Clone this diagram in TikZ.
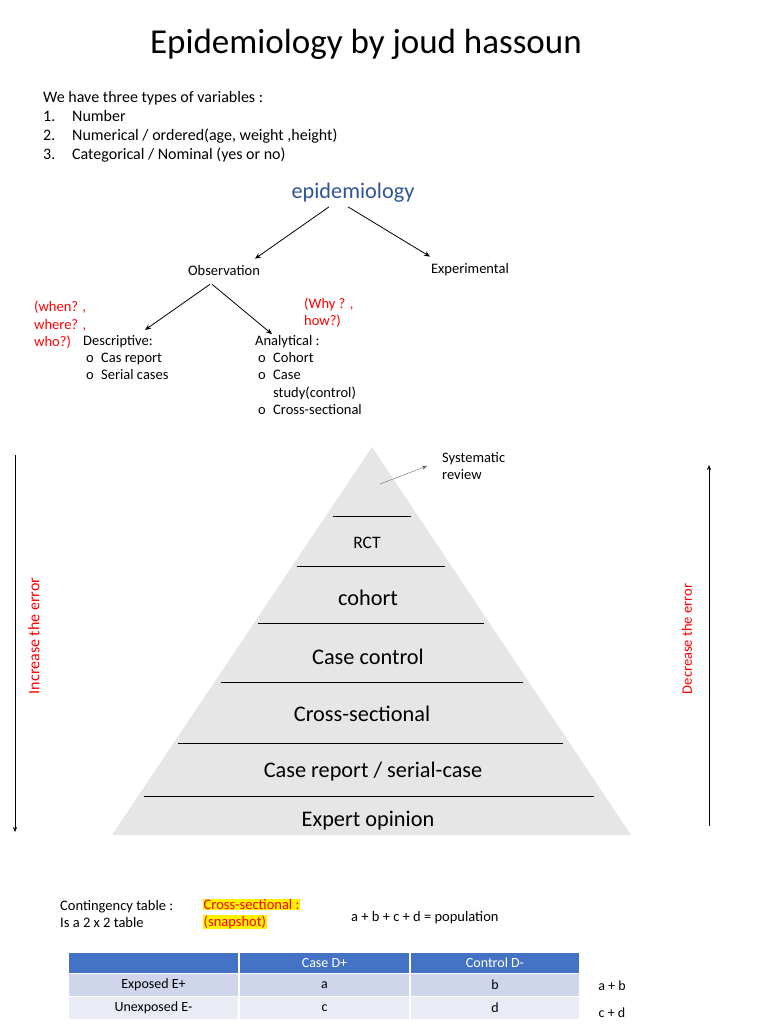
\documentclass[tikz,border=0pt]{standalone}
\usepackage{fontspec}
\setmainfont{Carlito}
\usepackage{tikz}
\usetikzlibrary{
	arrows.meta,
	positioning,
	calc
}
\definecolor{epiblue}{RGB}{47,85,151}
\definecolor{errred}{RGB}{255,0,0}
\definecolor{pyrgray}{RGB}{231,230,230}
\definecolor{headblue}{RGB}{68,114,196}
\definecolor{rowone}{RGB}{207,213,234}
\definecolor{rowtwo}{RGB}{233,235,245}
\newcommand{\bul}{\hspace*{3pt}\makebox[15pt][l]{o}}

\begin{document}
\begin{tikzpicture}[
			x=1pt, y=-1pt,
			txt/.style={inner sep=0pt, align=left, font=\fontsize{14.5}{17.3}\selectfont},
			redtxt/.style={txt, text=errred},
			level/.style={inner sep=0pt, font=\fontsize{22.3}{26}\selectfont},
			cell/.style={draw=white, line width=1.5pt, minimum width=170pt, inner sep=0pt, font=\fontsize{14}{16}\selectfont},
			headcell/.style={cell, fill=headblue, text=white, minimum height=21pt},
			arr/.style={-{Stealth[length=6pt,width=5pt]}, thick},
			errarr/.style={-{Stealth[length=5pt,width=4pt]}, thin}
		]
		\useasboundingbox (0,0) rectangle (768,1024);

		% titulo e variaveis
		\node[inner sep=0pt, font=\fontsize{35}{40}\selectfont] (title) at (366,44) {Epidemiology by joud hassoun};
		\node[txt, anchor=west, font=\fontsize{16}{19}\selectfont] (vars) at (43,127)
		{We have three types of variables :\\
			\makebox[29pt][l]{1.}Number\\
			\makebox[29pt][l]{2.}Numerical / ordered(age, weight ,height)\\
			\makebox[29pt][l]{3.}Categorical / Nominal (yes or no)};

		% arvore
		\node[inner sep=0pt, text=epiblue, font=\fontsize{22.3}{26}\selectfont] (epi) at (353,193) {epidemiology};
		\node[txt] (obs) at (224,271) {Observation};
		\node[txt] (exper) at (470,270) {Experimental};
		\node[txt, anchor=west] (desc) at (83,357.5)
		{Descriptive:\\ \bul Cas report\\ \bul Serial cases};
		\node[txt, anchor=west] (anal) at (255,375)
		{Analytical :\\ \bul Cohort\\ \bul Case\\ \hspace*{18pt}study(control)\\ \bul Cross-sectional};
		\node[redtxt, anchor=west] (whenq) at (34,325) {(when? ,\\ where? ,\\ who?)};
		\node[redtxt, anchor=west] (whyq) at (304,313) {(Why ? ,\\ how?)};

		\draw[arr] ([xshift=-24pt,yshift=-4pt]epi.south) -- ([xshift=31pt,yshift=7pt]obs.north);
		\draw[arr] ([xshift=-5pt,yshift=-4pt]epi.south) -- ([xshift=-40pt,yshift=7pt]exper.north);
		\draw[arr] ([xshift=-14pt,yshift=-8pt]obs.south) -- ([xshift=62pt,yshift=5pt]desc.north west);
		\draw[arr] ([xshift=-12pt,yshift=-8pt]obs.south) -- ([xshift=17pt,yshift=1pt]anal.north west);

		% piramide
		\fill[pyrgray] (372,447) -- (631,835) -- (112,835) -- cycle;
		\foreach \y/\l/\r in {516/333/411, 566/297/445, 623/258/484, 682/221/523, 743/178/563, 796/144/594} {
				\draw[line width=0.8pt] (\l,\y) -- (\r,\y);
			}
		\node[inner sep=0pt, font=\fontsize{17.5}{20}\selectfont] (rct) at (367,543) {RCT};
		\node[level] (coh) at (368,598) {cohort};
		\node[level] (cc) at (368,657) {Case control};
		\node[level] (cs) at (362,714) {Cross-sectional};
		\node[level] (cr) at (373,772) {Case report / serial-case};
		\node[level] (eo) at (368,821) {Expert opinion};

		\coordinate (sysin) at (380,484);
		\node[txt, anchor=west] (sysrev) at (442,466) {Systematic\\ review};
		\draw[errarr, black!60] (sysin) -- ([xshift=-15pt]sysrev.west);

		% erro
		\coordinate (inctop) at (15,455);
		\coordinate (incbot) at (15,832);
		\draw[errarr] (inctop) -- (incbot);
		\node[inner sep=0pt, text=errred, rotate=90, font=\fontsize{16}{19}\selectfont] (inc) at (34,636) {Increase the error};
		\coordinate (decbot) at (709,826);
		\coordinate (dectop) at (709,465);
		\draw[errarr] (decbot) -- (dectop);
		\node[inner sep=0pt, text=errred, rotate=90, font=\fontsize{14.5}{17}\selectfont] (dec) at (687,639) {Decrease the error};

		% tabela de contingencia
		\node[txt, anchor=west] (cont) at (60,914) {Contingency table :\\ Is a 2 x 2 table};
		\node[redtxt, anchor=west] (snap) at (203,914)
		{\setlength{\fboxsep}{0.5pt}\colorbox{yellow}{Cross-sectional :}\\ \setlength{\fboxsep}{0.5pt}\colorbox{yellow}{(snapshot)}};
		\node[txt, anchor=west] (pop) at (351,918) {a + b + c + d = population};

		\node[headcell] (h0) at (153.5,963) {};
		\node[headcell] (h1) at (324.5,963) {Case D+};
		\node[headcell] (h2) at (495,963) {Control D-};
		\node[cell, fill=rowone, minimum height=23pt] (e0) at (153.5,985) {Exposed E+};
		\node[cell, fill=rowone, minimum height=23pt] (e1) at (324.5,985) {a};
		\node[cell, fill=rowone, minimum height=23pt] (e2) at (495,985) {b};
		\node[cell, fill=rowtwo, minimum height=23pt] (u0) at (153.5,1008) {Unexposed E-};
		\node[cell, fill=rowtwo, minimum height=23pt] (u1) at (324.5,1008) {c};
		\node[cell, fill=rowtwo, minimum height=23pt] (u2) at (495,1008) {d};

		\node[txt, font=\fontsize{14}{16}\selectfont] (sumab) at (612,986) {a + b};
		\node[txt, font=\fontsize{14}{16}\selectfont] (sumcd) at (612,1013) {c + d};
	\end{tikzpicture}
\end{document}
